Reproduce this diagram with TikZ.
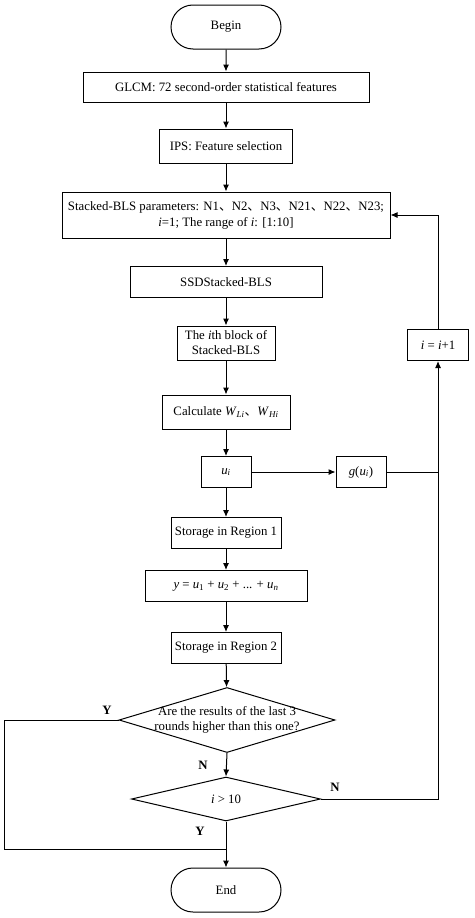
\documentclass[tikz,border=0pt]{standalone}
\usepackage{fontspec}
\setmainfont{Liberation Serif}
\newfontfamily\cjk{Noto Sans CJK SC}
\usetikzlibrary{shapes.geometric,shapes.misc,arrows.meta}
\newcommand{\iv}[1]{\textit{#1}}
\begin{document}
\begin{tikzpicture}[x=1pt,y=-1pt,
  every node/.style={font=\fontsize{12.8}{16}\selectfont},
  box/.style={draw, line width=1pt, rectangle, inner sep=0pt, align=center},
  term/.style={draw, line width=1pt, rounded rectangle, inner sep=0pt, minimum width=110pt, minimum height=44pt},
  dec/.style={draw, line width=1pt, diamond, inner sep=0pt},
  conn/.style={line width=1pt, -{Latex[length=7pt,width=6pt]}},
  line/.style={line width=1pt},
  yn/.style={font=\fontsize{12.8}{16}\selectfont\bfseries}]
\useasboundingbox (0,0) rectangle (474,918);
\node[term] (begin) at (226,27) {Begin};
\node[box, minimum width=286pt, minimum height=30pt] (glcm) at (226,87) {GLCM: 72 second-order statistical features};
\node[box, minimum width=133pt, minimum height=34pt] (ips) at (226,146) {IPS: Feature selection};
\node[box, minimum width=328pt, minimum height=46pt] (params) at (226,215) {Stacked-BLS parameters: N1{\cjk 、}N2{\cjk 、}N3{\cjk 、}N21{\cjk 、}N22{\cjk 、}N23;\\ \iv{i}=1; The range of \iv{i}: [1:10]};
\node[box, minimum width=192pt, minimum height=31pt] (ssd) at (226,282) {SSDStacked-BLS};
\node[box, minimum width=98pt, minimum height=34pt, font=\fontsize{12.8}{15}\selectfont] (block) at (226,343) {The \iv{i}th block of\\ Stacked-BLS};
\node[box, minimum width=128pt, minimum height=34pt] (calc) at (226,412) {Calculate \iv{W}\textsubscript{\iv{Li}}{\cjk 、}\iv{W}\textsubscript{\iv{Hi}}};
\node[box, minimum width=50pt, minimum height=31pt] (ut) at (226,472) {\iv{u}\textsubscript{\iv{i}}};
\node[box, minimum width=50pt, minimum height=31pt] (gut) at (361,472) {\iv{g}(\iv{u}\textsubscript{\iv{i}})};
\node[box, minimum width=61pt, minimum height=31pt] (inc) at (438,345) {\iv{i} = \iv{i}+1};
\node[box, minimum width=110pt, minimum height=31pt] (s1) at (226,533) {Storage in Region 1};
\node[box, minimum width=162pt, minimum height=31pt] (ysum) at (226,586) {\iv{y} = \iv{u}\textsubscript{1} + \iv{u}\textsubscript{2} + ... + \iv{u}\textsubscript{\iv{n}}};
\node[box, minimum width=110pt, minimum height=31pt] (s2) at (226,648) {Storage in Region 2};
\node[dec, minimum width=216pt, minimum height=65pt] (d1) at (227,720) {};
\node[align=center, font=\fontsize{12.8}{15}\selectfont] (d1t) at (d1) {Are the results of the last 3\\ rounds higher than this one?};
\node[dec, minimum width=189pt, minimum height=44pt] (d2) at (226,799) {};
\node (d2t) at (d2) {\iv{i} > 10};
\node[term] (end) at (226,890) {End};
\coordinate (jn) at (438,472);
\coordinate (lp) at (226,849);
\draw[conn] (begin) -- (glcm);
\draw[conn] (glcm) -- (ips);
\draw[conn] (ips) -- (params);
\draw[conn] (params) -- (ssd);
\draw[conn] (ssd) -- (block);
\draw[conn] (block) -- (calc);
\draw[conn] (calc) -- (ut);
\draw[conn] (ut) -- (s1);
\draw[conn] (s1) -- (ysum);
\draw[conn] (ysum) -- (s2);
\draw[conn] (s2) -- (d1);
\draw[conn] (d1.south) -- (d2.north);
\draw[conn] (d2.south) -- (end.north);
\draw[conn] (ut) -- (gut);
\draw[line] (gut.east) -- (jn);
\draw[conn] (d2.east) -| (inc.south);
\draw[conn] (inc.north) |- (params.east);
\draw[line] (d1.west) -- (4,720) |- (lp);
\node[yn] (y1) at (107,710) {Y};
\node[yn] (n1) at (203,765) {N};
\node[yn] (n2) at (335,787) {N};
\node[yn] (y2) at (200,831) {Y};
\end{tikzpicture}
\end{document}
